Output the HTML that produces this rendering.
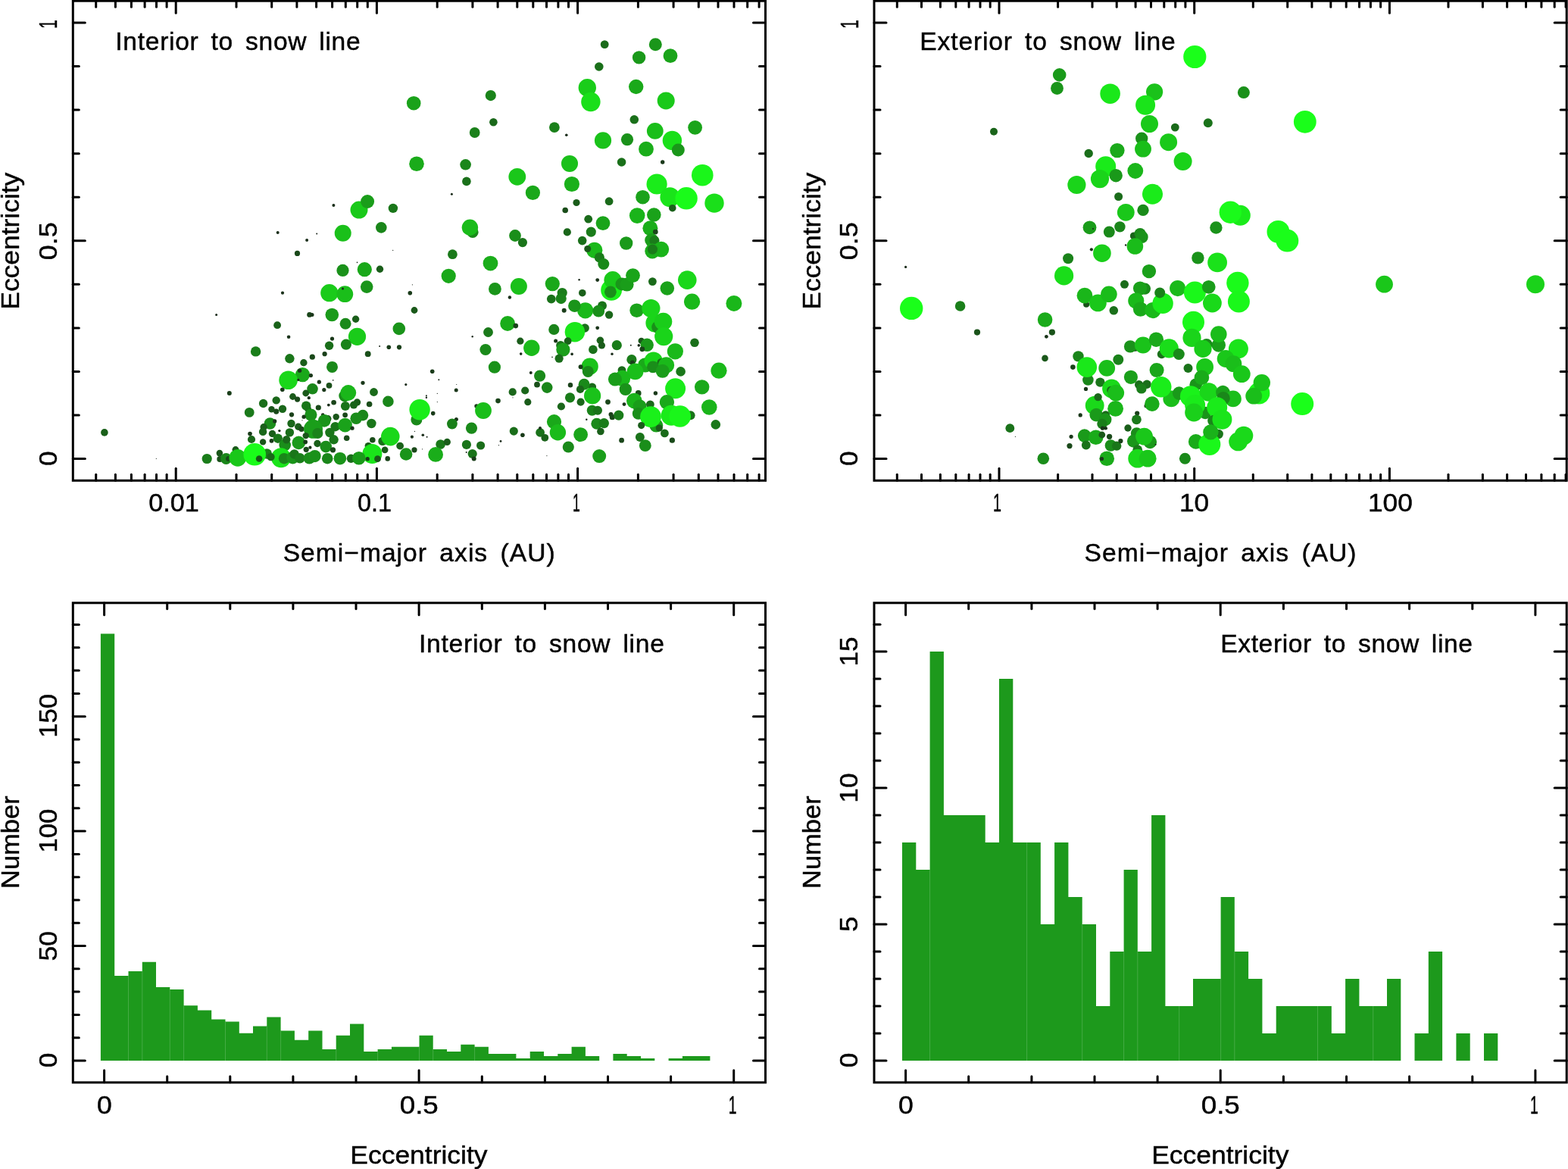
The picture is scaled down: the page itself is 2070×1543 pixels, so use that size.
<!DOCTYPE html>
<html><head><meta charset="utf-8"><title>Eccentricity vs semi-major axis</title>
<style>html,body{margin:0;padding:0;background:#fff;}svg{display:block;}</style>
</head><body>
<svg width="2070" height="1543" viewBox="0 0 2070 1543">
<defs>
<clipPath id="c1"><rect x="96.3" y="1.2" width="914.2" height="633.1"/></clipPath>
<clipPath id="c2"><rect x="1154" y="1.2" width="914.2" height="633.1"/></clipPath>
<clipPath id="c3"><rect x="96.3" y="795.8" width="914.2" height="633"/></clipPath>
<clipPath id="c4"><rect x="1154" y="795.8" width="914.2" height="633"/></clipPath>
</defs>
<rect width="2070" height="1543" fill="#fff"/>
<path fill="#1d991c" d="M132.9 1400L132.9 836.6L151.2 836.6L151.2 1287.9L169.5 1287.9L169.5 1281.9L187.8 1281.9L187.8 1269.8L206 1269.8L206 1303.1L224.3 1303.1L224.3 1306.1L242.6 1306.1L242.6 1327.3L260.9 1327.3L260.9 1333.4L279.2 1333.4L279.2 1345.5L297.5 1345.5L297.5 1348.5L315.8 1348.5L315.8 1363.7L334 1363.7L334 1354.6L352.3 1354.6L352.3 1342.4L370.6 1342.4L370.6 1360.6L388.9 1360.6L388.9 1372.7L407.2 1372.7L407.2 1360.6L425.5 1360.6L425.5 1384.9L443.7 1384.9L443.7 1366.7L462 1366.7L462 1351.5L480.3 1351.5L480.3 1387.9L498.6 1387.9L498.6 1384.9L516.9 1384.9L516.9 1381.8L535.2 1381.8L535.2 1381.8L553.5 1381.8L553.5 1366.7L571.7 1366.7L571.7 1384.9L590 1384.9L590 1387.9L608.3 1387.9L608.3 1378.8L626.6 1378.8L626.6 1381.8L644.9 1381.8L644.9 1390.9L663.2 1390.9L663.2 1390.9L681.4 1390.9L681.4 1397L699.7 1397L699.7 1387.9L718 1387.9L718 1393.9L736.3 1393.9L736.3 1390.9L754.6 1390.9L754.6 1381.8L772.9 1381.8L772.9 1393.9L791.2 1393.9L791.2 1400 Z M809.4 1400L809.4 1390.9L827.7 1390.9L827.7 1393.9L846 1393.9L846 1397L864.3 1397L864.3 1400 Z M882.6 1400L882.6 1397L900.9 1397L900.9 1393.9L919.2 1393.9L919.2 1393.9L937.4 1393.9L937.4 1400 Z"/>
<path fill="#1d991c" d="M1191 1400L1191 1112.1L1209.3 1112.1L1209.3 1148.1L1227.6 1148.1L1227.6 860.1L1245.9 860.1L1245.9 1076.1L1264.1 1076.1L1264.1 1076.1L1282.4 1076.1L1282.4 1076.1L1300.7 1076.1L1300.7 1112.1L1319 1112.1L1319 896.1L1337.3 896.1L1337.3 1112.1L1355.6 1112.1L1355.6 1112.1L1373.8 1112.1L1373.8 1220L1392.1 1220L1392.1 1112.1L1410.4 1112.1L1410.4 1184.1L1428.7 1184.1L1428.7 1220L1447 1220L1447 1328L1465.3 1328L1465.3 1256L1483.6 1256L1483.6 1148.1L1501.8 1148.1L1501.8 1256L1520.1 1256L1520.1 1076.1L1538.4 1076.1L1538.4 1328L1556.7 1328L1556.7 1328L1575 1328L1575 1292L1593.3 1292L1593.3 1292L1611.6 1292L1611.6 1184.1L1629.8 1184.1L1629.8 1256L1648.1 1256L1648.1 1292L1666.4 1292L1666.4 1364L1684.7 1364L1684.7 1328L1703 1328L1703 1328L1721.3 1328L1721.3 1328L1739.5 1328L1739.5 1328L1757.8 1328L1757.8 1364L1776.1 1364L1776.1 1292L1794.4 1292L1794.4 1328L1812.7 1328L1812.7 1328L1831 1328L1831 1292L1849.3 1292L1849.3 1400 Z M1867.5 1400L1867.5 1364L1885.8 1364L1885.8 1256L1904.1 1256L1904.1 1400 Z M1922.4 1400L1922.4 1364L1940.7 1364L1940.7 1400 Z M1959 1400L1959 1364L1977.3 1364L1977.3 1400 Z"/>
<g stroke="#4aae4a" stroke-width="0.9">
<line x1="169.5" y1="1287.9" x2="169.5" y2="1400"/>
<line x1="187.8" y1="1281.9" x2="187.8" y2="1400"/>
<line x1="224.3" y1="1306.1" x2="224.3" y2="1400"/>
<line x1="242.6" y1="1327.3" x2="242.6" y2="1400"/>
<line x1="297.5" y1="1348.5" x2="297.5" y2="1400"/>
<line x1="352.3" y1="1354.6" x2="352.3" y2="1400"/>
<line x1="370.6" y1="1360.6" x2="370.6" y2="1400"/>
<line x1="443.7" y1="1384.9" x2="443.7" y2="1400"/>
<line x1="498.6" y1="1387.9" x2="498.6" y2="1400"/>
<line x1="553.5" y1="1381.8" x2="553.5" y2="1400"/>
<line x1="571.7" y1="1384.9" x2="571.7" y2="1400"/>
<line x1="626.6" y1="1381.8" x2="626.6" y2="1400"/>
<line x1="1227.6" y1="1148.1" x2="1227.6" y2="1400"/>
<line x1="1355.6" y1="1112.1" x2="1355.6" y2="1400"/>
<line x1="1428.7" y1="1220" x2="1428.7" y2="1400"/>
<line x1="1483.6" y1="1256" x2="1483.6" y2="1400"/>
<line x1="1501.8" y1="1256" x2="1501.8" y2="1400"/>
<line x1="1556.7" y1="1328" x2="1556.7" y2="1400"/>
<line x1="1611.6" y1="1292" x2="1611.6" y2="1400"/>
<line x1="1629.8" y1="1256" x2="1629.8" y2="1400"/>
<line x1="1739.5" y1="1328" x2="1739.5" y2="1400"/>
<line x1="1812.7" y1="1328" x2="1812.7" y2="1400"/>
</g>
<g clip-path="url(#c1)">
<circle cx="546.2" cy="136.2" r="9.3" fill="#1aa21a"/>
<circle cx="550" cy="216.2" r="9.8" fill="#1aab1a"/>
<circle cx="440.4" cy="271.1" r="2" fill="#1a2e1a"/>
<circle cx="474" cy="277.1" r="11.5" fill="#1ac91a"/>
<circle cx="485.1" cy="266" r="9" fill="#1a9d1a"/>
<circle cx="518.9" cy="274.9" r="6.2" fill="#1a761a"/>
<circle cx="452.7" cy="307.8" r="11" fill="#1ac01a"/>
<circle cx="503.3" cy="300.4" r="7.3" fill="#1a861a"/>
<circle cx="366.7" cy="306.9" r="2" fill="#1a2e1a"/>
<circle cx="418.2" cy="308.4" r="1" fill="#1a261a"/>
<circle cx="405.1" cy="317.1" r="2" fill="#1a2e1a"/>
<circle cx="647.8" cy="126.1" r="7.1" fill="#1a831a"/>
<circle cx="651.4" cy="161.3" r="5.3" fill="#1a681a"/>
<circle cx="626.7" cy="175" r="6.9" fill="#1a801a"/>
<circle cx="731.9" cy="168.1" r="6.9" fill="#1a801a"/>
<circle cx="747.8" cy="178.3" r="1.8" fill="#1a2c1a"/>
<circle cx="798.2" cy="58.6" r="5.4" fill="#1a6a1a"/>
<circle cx="865.3" cy="58.7" r="8.5" fill="#1a961a"/>
<circle cx="843.6" cy="75.9" r="8.7" fill="#1a991a"/>
<circle cx="885" cy="73.7" r="9.4" fill="#1aa41a"/>
<circle cx="790.8" cy="88" r="5.8" fill="#1a701a"/>
<circle cx="775.3" cy="115.7" r="11.7" fill="#1acd1a"/>
<circle cx="779.9" cy="134.5" r="12.7" fill="#1adf1a"/>
<circle cx="839.7" cy="114.5" r="9.7" fill="#1aa91a"/>
<circle cx="879.2" cy="132.9" r="11.5" fill="#1ac91a"/>
<circle cx="837.3" cy="157.8" r="5.8" fill="#1a701a"/>
<circle cx="864.8" cy="172.9" r="10.9" fill="#1abe1a"/>
<circle cx="917.6" cy="168.3" r="9.4" fill="#1aa41a"/>
<circle cx="796" cy="185.4" r="11.1" fill="#1ac21a"/>
<circle cx="828" cy="184.2" r="8.1" fill="#1a911a"/>
<circle cx="887.4" cy="185.4" r="12.7" fill="#1adf1a"/>
<circle cx="853" cy="196.7" r="9.9" fill="#1aad1a"/>
<circle cx="895.3" cy="197.9" r="8.5" fill="#1a961a"/>
<circle cx="614.6" cy="217.3" r="7.3" fill="#1a861a"/>
<circle cx="615.9" cy="239.4" r="5.8" fill="#1a701a"/>
<circle cx="596.4" cy="256.2" r="1.5" fill="#1a2a1a"/>
<circle cx="682.8" cy="233.3" r="11.4" fill="#1ac71a"/>
<circle cx="703.4" cy="254.4" r="9.6" fill="#1aa81a"/>
<circle cx="752" cy="215.9" r="11" fill="#1ac01a"/>
<circle cx="754.9" cy="243" r="10.1" fill="#1ab01a"/>
<circle cx="761" cy="267.5" r="4.6" fill="#1a5c1a"/>
<circle cx="746.2" cy="277.5" r="3.8" fill="#1a4d1a"/>
<circle cx="624" cy="306.4" r="7.6" fill="#1a8a1a"/>
<circle cx="620.4" cy="300.3" r="10.7" fill="#1abb1a"/>
<circle cx="680" cy="311" r="7.9" fill="#1a8e1a"/>
<circle cx="689.9" cy="320.1" r="6.1" fill="#1a741a"/>
<circle cx="748.8" cy="306.4" r="5.1" fill="#1a661a"/>
<circle cx="820.6" cy="214" r="5.8" fill="#1a701a"/>
<circle cx="874.7" cy="214" r="2.7" fill="#1a391a"/>
<circle cx="927.3" cy="231.2" r="14.3" fill="#1af61a"/>
<circle cx="867.1" cy="243" r="13.6" fill="#1aec1a"/>
<circle cx="884.4" cy="260.2" r="13" fill="#1ae41a"/>
<circle cx="906.1" cy="261.8" r="14.7" fill="#1afb1a"/>
<circle cx="943" cy="268.1" r="12.7" fill="#1adf1a"/>
<circle cx="848.5" cy="260.2" r="9.3" fill="#1aa21a"/>
<circle cx="804.1" cy="265.7" r="5.4" fill="#1a6a1a"/>
<circle cx="887.8" cy="274.7" r="4.8" fill="#1a601a"/>
<circle cx="841.2" cy="284.6" r="10.3" fill="#1ab41a"/>
<circle cx="863.3" cy="283.5" r="9.3" fill="#1aa21a"/>
<circle cx="776.7" cy="289.2" r="5.4" fill="#1a6a1a"/>
<circle cx="796" cy="294.6" r="9.4" fill="#1aa41a"/>
<circle cx="858.4" cy="301.3" r="10" fill="#1aae1a"/>
<circle cx="865.3" cy="306.1" r="3.4" fill="#1a461a"/>
<circle cx="780.3" cy="306.1" r="6.6" fill="#1a7c1a"/>
<circle cx="768.7" cy="317.6" r="5.8" fill="#1a701a"/>
<circle cx="826.7" cy="321" r="8.7" fill="#1a991a"/>
<circle cx="860.2" cy="317" r="9" fill="#1a9d1a"/>
<circle cx="863.9" cy="317.6" r="6.6" fill="#1a7c1a"/>
<circle cx="872.9" cy="329.1" r="10.3" fill="#1ab41a"/>
<circle cx="861.2" cy="331.5" r="9.9" fill="#1aad1a"/>
<circle cx="861.4" cy="329.1" r="6.6" fill="#1a7c1a"/>
<circle cx="784.8" cy="330.3" r="10.6" fill="#1ab91a"/>
<circle cx="775.7" cy="328.5" r="4.5" fill="#1a5a1a"/>
<circle cx="791.4" cy="339.9" r="6.6" fill="#1a7c1a"/>
<circle cx="796.8" cy="348.5" r="7.5" fill="#1a891a"/>
<circle cx="764.6" cy="369.3" r="1.2" fill="#1a281a"/>
<circle cx="788.7" cy="369.6" r="2.4" fill="#1a341a"/>
<circle cx="807.1" cy="382.9" r="13.9" fill="#1af01a"/>
<circle cx="808.9" cy="369.6" r="11.5" fill="#1ac91a"/>
<circle cx="805.9" cy="385.3" r="7.9" fill="#1a8e1a"/>
<circle cx="821" cy="375" r="8.5" fill="#1a961a"/>
<circle cx="827.6" cy="375.6" r="9" fill="#1a9d1a"/>
<circle cx="835.5" cy="363.6" r="9.4" fill="#1aa41a"/>
<circle cx="861.4" cy="371.6" r="5.4" fill="#1a6a1a"/>
<circle cx="880.8" cy="380.5" r="9.3" fill="#1aa21a"/>
<circle cx="907.3" cy="369.6" r="12.3" fill="#1ad71a"/>
<circle cx="768.8" cy="386.7" r="4.8" fill="#1a601a"/>
<circle cx="913.6" cy="398.2" r="10.6" fill="#1ab91a"/>
<circle cx="968.9" cy="400.4" r="10.5" fill="#1ab71a"/>
<circle cx="772.7" cy="409.8" r="10.6" fill="#1ab91a"/>
<circle cx="795" cy="403.4" r="6" fill="#1a731a"/>
<circle cx="790.2" cy="410.7" r="7.9" fill="#1a8e1a"/>
<circle cx="804.1" cy="415.5" r="5.2" fill="#1a671a"/>
<circle cx="840.6" cy="409.7" r="9.3" fill="#1aa21a"/>
<circle cx="859.4" cy="407" r="12.1" fill="#1ad41a"/>
<circle cx="864.5" cy="426.4" r="12.1" fill="#1ad41a"/>
<circle cx="868.1" cy="431.8" r="7.9" fill="#1a8e1a"/>
<circle cx="875.6" cy="424.5" r="11.7" fill="#1acd1a"/>
<circle cx="876.2" cy="444.1" r="12.1" fill="#1ad41a"/>
<circle cx="772.1" cy="433" r="5.8" fill="#1a701a"/>
<circle cx="788.7" cy="432.8" r="2.4" fill="#1a341a"/>
<circle cx="792.4" cy="449.3" r="4.8" fill="#1a601a"/>
<circle cx="794.4" cy="455.9" r="4.6" fill="#1a5c1a"/>
<circle cx="782.9" cy="461.4" r="5.8" fill="#1a701a"/>
<circle cx="814.3" cy="455.7" r="6.6" fill="#1a7c1a"/>
<circle cx="808" cy="467.2" r="1.7" fill="#1a2c1a"/>
<circle cx="832.8" cy="455.7" r="1" fill="#1a261a"/>
<circle cx="843.3" cy="455.9" r="1.8" fill="#1a2c1a"/>
<circle cx="846.7" cy="449.9" r="4.2" fill="#1a551a"/>
<circle cx="854.2" cy="455.3" r="8.7" fill="#1a991a"/>
<circle cx="847.8" cy="460.8" r="3.4" fill="#1a461a"/>
<circle cx="917" cy="452.3" r="5.8" fill="#1a701a"/>
<circle cx="891.4" cy="463.8" r="10.6" fill="#1ab91a"/>
<circle cx="833.9" cy="474.7" r="6.6" fill="#1a7c1a"/>
<circle cx="834.9" cy="478.5" r="3" fill="#1a3e1a"/>
<circle cx="846.1" cy="478.9" r="3" fill="#1a3e1a"/>
<circle cx="851.8" cy="481.9" r="9.7" fill="#1aa91a"/>
<circle cx="862.7" cy="476.5" r="12.1" fill="#1ad41a"/>
<circle cx="872.9" cy="478.3" r="5.4" fill="#1a6a1a"/>
<circle cx="879.6" cy="481.9" r="10.6" fill="#1ab91a"/>
<circle cx="862" cy="484.3" r="7.9" fill="#1a8e1a"/>
<circle cx="874.7" cy="489.8" r="9" fill="#1a9d1a"/>
<circle cx="838.5" cy="490.4" r="10.9" fill="#1abe1a"/>
<circle cx="821" cy="488.6" r="5.4" fill="#1a6a1a"/>
<circle cx="821.6" cy="499.4" r="10.6" fill="#1ab91a"/>
<circle cx="811.9" cy="500.6" r="9" fill="#1a9d1a"/>
<circle cx="825.8" cy="513.9" r="8.2" fill="#1a921a"/>
<circle cx="778.7" cy="483.7" r="11.1" fill="#1ac21a"/>
<circle cx="766.6" cy="484.3" r="3" fill="#1a3e1a"/>
<circle cx="776.3" cy="490.4" r="7.5" fill="#1a891a"/>
<circle cx="898.6" cy="490.4" r="6.3" fill="#1a781a"/>
<circle cx="949" cy="489.2" r="10.6" fill="#1ab91a"/>
<circle cx="891.6" cy="512.7" r="13.5" fill="#1aeb1a"/>
<circle cx="926.7" cy="510.9" r="9.7" fill="#1aa91a"/>
<circle cx="781.7" cy="510.9" r="5.4" fill="#1a6a1a"/>
<circle cx="771.1" cy="507.3" r="7.5" fill="#1a891a"/>
<circle cx="766" cy="513.9" r="5.1" fill="#1a661a"/>
<circle cx="782.1" cy="522.4" r="11.1" fill="#1ac21a"/>
<circle cx="766.6" cy="530.6" r="5.1" fill="#1a661a"/>
<circle cx="802.5" cy="530.6" r="3.4" fill="#1a461a"/>
<circle cx="824" cy="533.6" r="2.4" fill="#1a341a"/>
<circle cx="842.7" cy="519" r="3.9" fill="#1a4f1a"/>
<circle cx="865.4" cy="519" r="2.7" fill="#1a391a"/>
<circle cx="837.3" cy="529" r="10.3" fill="#1ab41a"/>
<circle cx="844.5" cy="536.3" r="9" fill="#1a9d1a"/>
<circle cx="858.4" cy="533.8" r="5.4" fill="#1a6a1a"/>
<circle cx="880.4" cy="530.8" r="9.7" fill="#1aa91a"/>
<circle cx="842.7" cy="545.9" r="7.9" fill="#1a8e1a"/>
<circle cx="866.3" cy="561.6" r="9" fill="#1a9d1a"/>
<circle cx="859" cy="550.1" r="13.9" fill="#1af01a"/>
<circle cx="911.6" cy="548.3" r="6" fill="#1a731a"/>
<circle cx="886.2" cy="548.3" r="13.5" fill="#1aeb1a"/>
<circle cx="897.7" cy="549.5" r="14.3" fill="#1af61a"/>
<circle cx="936.3" cy="537.5" r="10.3" fill="#1ab41a"/>
<circle cx="944.8" cy="560.4" r="6.3" fill="#1a781a"/>
<circle cx="781.7" cy="541.7" r="7" fill="#1a821a"/>
<circle cx="789" cy="541.7" r="6" fill="#1a731a"/>
<circle cx="806.5" cy="546.9" r="3" fill="#1a3e1a"/>
<circle cx="808.3" cy="550.7" r="3.6" fill="#1a491a"/>
<circle cx="816.8" cy="548.1" r="6.6" fill="#1a7c1a"/>
<circle cx="774.3" cy="553.8" r="1.2" fill="#1a281a"/>
<circle cx="787.8" cy="559.2" r="7.5" fill="#1a891a"/>
<circle cx="797.4" cy="558.6" r="6.6" fill="#1a7c1a"/>
<circle cx="792.9" cy="569.5" r="4.8" fill="#1a601a"/>
<circle cx="766.6" cy="573.7" r="9.4" fill="#1aa41a"/>
<circle cx="846.7" cy="561.6" r="4.6" fill="#1a5c1a"/>
<circle cx="870.3" cy="565" r="4.6" fill="#1a5c1a"/>
<circle cx="877.4" cy="571.9" r="5.4" fill="#1a6a1a"/>
<circle cx="844.9" cy="577" r="6" fill="#1a731a"/>
<circle cx="851.8" cy="588.2" r="7.9" fill="#1a8e1a"/>
<circle cx="820.6" cy="581.2" r="3.4" fill="#1a461a"/>
<circle cx="887.4" cy="581.2" r="3.6" fill="#1a491a"/>
<circle cx="791.2" cy="602.1" r="9" fill="#1a9d1a"/>
<circle cx="597.4" cy="335.7" r="6.4" fill="#1a791a"/>
<circle cx="647.5" cy="347.6" r="9.9" fill="#1aad1a"/>
<circle cx="592.2" cy="364.3" r="9.6" fill="#1aa81a"/>
<circle cx="653.4" cy="381.4" r="8.4" fill="#1a951a"/>
<circle cx="684.9" cy="378" r="11" fill="#1ac01a"/>
<circle cx="672.9" cy="392.5" r="2.2" fill="#1a311a"/>
<circle cx="729.3" cy="374.6" r="9.6" fill="#1aa81a"/>
<circle cx="742.2" cy="386.5" r="6.6" fill="#1a7c1a"/>
<circle cx="727.8" cy="394.6" r="5.9" fill="#1a721a"/>
<circle cx="740.7" cy="394.1" r="7.1" fill="#1a831a"/>
<circle cx="758.4" cy="403.7" r="8.3" fill="#1a941a"/>
<circle cx="744.7" cy="409.8" r="3" fill="#1a3e1a"/>
<circle cx="670.1" cy="427" r="9.9" fill="#1aad1a"/>
<circle cx="680.8" cy="430.1" r="3.3" fill="#1a441a"/>
<circle cx="644.5" cy="438.5" r="6.4" fill="#1a791a"/>
<circle cx="623.7" cy="444.3" r="1.2" fill="#1a281a"/>
<circle cx="731.3" cy="434.9" r="7.1" fill="#1a831a"/>
<circle cx="758.9" cy="438.2" r="13.2" fill="#1ae71a"/>
<circle cx="686.9" cy="450.2" r="4.6" fill="#1a5c1a"/>
<circle cx="701.8" cy="459.2" r="10.7" fill="#1abb1a"/>
<circle cx="641" cy="461.5" r="7.6" fill="#1a8a1a"/>
<circle cx="687.7" cy="467.1" r="1.8" fill="#1a2c1a"/>
<circle cx="733.6" cy="449.9" r="2.5" fill="#1a361a"/>
<circle cx="749.6" cy="450.2" r="4.9" fill="#1a621a"/>
<circle cx="740.1" cy="456" r="6" fill="#1a731a"/>
<circle cx="743.4" cy="461.5" r="9.1" fill="#1a9f1a"/>
<circle cx="755.1" cy="467.4" r="1.8" fill="#1a2c1a"/>
<circle cx="729" cy="471.4" r="0.8" fill="#1a261a"/>
<circle cx="738.1" cy="473.2" r="5.6" fill="#1a6d1a"/>
<circle cx="570.7" cy="490.3" r="2.8" fill="#1a3b1a"/>
<circle cx="579.3" cy="501.2" r="1" fill="#1a261a"/>
<circle cx="602.7" cy="507.5" r="0.6" fill="#1a251a"/>
<circle cx="602.2" cy="515.1" r="2.5" fill="#1a361a"/>
<circle cx="577.3" cy="519.4" r="0.6" fill="#1a251a"/>
<circle cx="562.9" cy="522.2" r="1" fill="#1a261a"/>
<circle cx="562.9" cy="524.8" r="1.2" fill="#1a281a"/>
<circle cx="577.3" cy="530.6" r="0.6" fill="#1a251a"/>
<circle cx="652.9" cy="484.7" r="8.1" fill="#1a911a"/>
<circle cx="700.8" cy="492" r="2" fill="#1a2e1a"/>
<circle cx="712.6" cy="496.1" r="7.6" fill="#1a8a1a"/>
<circle cx="709" cy="507.7" r="3.9" fill="#1a4f1a"/>
<circle cx="722.2" cy="511.6" r="7.3" fill="#1a861a"/>
<circle cx="753" cy="508.2" r="3.2" fill="#1a421a"/>
<circle cx="676.7" cy="517.4" r="5.1" fill="#1a661a"/>
<circle cx="693.2" cy="515.5" r="5.1" fill="#1a661a"/>
<circle cx="677" cy="524.8" r="0.6" fill="#1a251a"/>
<circle cx="657.5" cy="529.1" r="3.3" fill="#1a441a"/>
<circle cx="696.8" cy="530.7" r="4.6" fill="#1a5c1a"/>
<circle cx="752.5" cy="524.8" r="6.6" fill="#1a7c1a"/>
<circle cx="740.9" cy="536.5" r="5.1" fill="#1a661a"/>
<circle cx="629.1" cy="536" r="2.8" fill="#1a3b1a"/>
<circle cx="638" cy="542" r="10.9" fill="#1abe1a"/>
<circle cx="571.7" cy="545.6" r="2.8" fill="#1a3b1a"/>
<circle cx="602.4" cy="553.4" r="2.5" fill="#1a361a"/>
<circle cx="596.9" cy="559.5" r="6.9" fill="#1a801a"/>
<circle cx="622.5" cy="565.1" r="7.6" fill="#1a8a1a"/>
<circle cx="678.3" cy="569.1" r="5.6" fill="#1a6d1a"/>
<circle cx="689.9" cy="574.3" r="2.8" fill="#1a3b1a"/>
<circle cx="713.1" cy="570.9" r="5.9" fill="#1a721a"/>
<circle cx="713" cy="565.1" r="2" fill="#1a2e1a"/>
<circle cx="719.3" cy="577.8" r="4.9" fill="#1a621a"/>
<circle cx="731.5" cy="556.7" r="9.6" fill="#1aa81a"/>
<circle cx="736.4" cy="570.7" r="10.7" fill="#1abb1a"/>
<circle cx="750.3" cy="590" r="7.6" fill="#1a8a1a"/>
<circle cx="558.3" cy="574.3" r="1.8" fill="#1a2c1a"/>
<circle cx="563.6" cy="576.7" r="1" fill="#1a261a"/>
<circle cx="581.6" cy="586.5" r="6.3" fill="#1a781a"/>
<circle cx="590.3" cy="583.4" r="4.6" fill="#1a5c1a"/>
<circle cx="575.1" cy="599.9" r="9.9" fill="#1aad1a"/>
<circle cx="557.5" cy="592.8" r="0.6" fill="#1a251a"/>
<circle cx="615.9" cy="586.9" r="6.1" fill="#1a741a"/>
<circle cx="634.6" cy="588" r="5.6" fill="#1a6d1a"/>
<circle cx="615.7" cy="597" r="1" fill="#1a261a"/>
<circle cx="623.7" cy="599" r="6.1" fill="#1a741a"/>
<circle cx="625.7" cy="605.4" r="3" fill="#1a3e1a"/>
<circle cx="661" cy="582.4" r="1.4" fill="#1a291a"/>
<circle cx="658.5" cy="587.7" r="0.6" fill="#1a251a"/>
<circle cx="721.9" cy="601.6" r="0.6" fill="#1a251a"/>
<circle cx="392.5" cy="334.4" r="3.6" fill="#1a491a"/>
<circle cx="471.5" cy="346.4" r="0.8" fill="#1a261a"/>
<circle cx="518.7" cy="330.4" r="0.6" fill="#1a251a"/>
<circle cx="452.5" cy="356.9" r="8.1" fill="#1a911a"/>
<circle cx="481.3" cy="355.7" r="9.6" fill="#1aa81a"/>
<circle cx="501.5" cy="355.2" r="4.7" fill="#1a5e1a"/>
<circle cx="544.4" cy="375.8" r="0.6" fill="#1a251a"/>
<circle cx="434.8" cy="386.7" r="11.6" fill="#1acb1a"/>
<circle cx="455.3" cy="388.2" r="10.9" fill="#1abe1a"/>
<circle cx="452.5" cy="381" r="1.5" fill="#1a2a1a"/>
<circle cx="484.2" cy="378.6" r="8.3" fill="#1a941a"/>
<circle cx="373" cy="386.7" r="2.1" fill="#1a301a"/>
<circle cx="541.3" cy="386.7" r="2.8" fill="#1a3b1a"/>
<circle cx="408.6" cy="415.4" r="3.4" fill="#1a461a"/>
<circle cx="412" cy="415.4" r="2.5" fill="#1a361a"/>
<circle cx="438.3" cy="415.5" r="8.8" fill="#1a9a1a"/>
<circle cx="456.1" cy="427.2" r="7.5" fill="#1a891a"/>
<circle cx="469.6" cy="421.3" r="4.7" fill="#1a5e1a"/>
<circle cx="547" cy="409.5" r="4.4" fill="#1a591a"/>
<circle cx="366.1" cy="429.2" r="4.9" fill="#1a621a"/>
<circle cx="526.8" cy="433.9" r="8.3" fill="#1a941a"/>
<circle cx="471.5" cy="444.3" r="11.6" fill="#1acb1a"/>
<circle cx="381.1" cy="444.8" r="2.3" fill="#1a331a"/>
<circle cx="438.5" cy="447.1" r="2.6" fill="#1a381a"/>
<circle cx="434.6" cy="456.3" r="5.7" fill="#1a6e1a"/>
<circle cx="456.9" cy="454.7" r="7.1" fill="#1a831a"/>
<circle cx="501.1" cy="457" r="1" fill="#1a261a"/>
<circle cx="513.3" cy="458.3" r="2.8" fill="#1a3b1a"/>
<circle cx="527" cy="458.3" r="3.1" fill="#1a401a"/>
<circle cx="428.6" cy="467.2" r="3.1" fill="#1a401a"/>
<circle cx="485.7" cy="467.2" r="3.9" fill="#1a4f1a"/>
<circle cx="382.4" cy="473.3" r="6.2" fill="#1a761a"/>
<circle cx="412.3" cy="471.2" r="3.6" fill="#1a491a"/>
<circle cx="400.9" cy="478.8" r="4.7" fill="#1a5e1a"/>
<circle cx="438.5" cy="484.4" r="7.5" fill="#1a891a"/>
<circle cx="399.5" cy="494.6" r="9.6" fill="#1aa81a"/>
<circle cx="395.6" cy="489.2" r="2.6" fill="#1a381a"/>
<circle cx="410.4" cy="495.6" r="2.6" fill="#1a381a"/>
<circle cx="380.6" cy="501.7" r="12.3" fill="#1ad71a"/>
<circle cx="393.8" cy="501.4" r="1.6" fill="#1a2b1a"/>
<circle cx="372.8" cy="514.3" r="2.8" fill="#1a3b1a"/>
<circle cx="421.3" cy="504.2" r="2.6" fill="#1a381a"/>
<circle cx="439.7" cy="501.9" r="0.8" fill="#1a261a"/>
<circle cx="412.5" cy="513.3" r="7.3" fill="#1a861a"/>
<circle cx="434.5" cy="508.8" r="3.9" fill="#1a4f1a"/>
<circle cx="427.8" cy="514.6" r="2.6" fill="#1a381a"/>
<circle cx="403.7" cy="519" r="4.4" fill="#1a591a"/>
<circle cx="479" cy="505.3" r="2.6" fill="#1a381a"/>
<circle cx="535.8" cy="507.6" r="1.6" fill="#1a2b1a"/>
<circle cx="455.1" cy="522.6" r="7.8" fill="#1a8d1a"/>
<circle cx="459.8" cy="518.5" r="10.4" fill="#1ab61a"/>
<circle cx="493.5" cy="517.5" r="5.4" fill="#1a6a1a"/>
<circle cx="512.4" cy="529.9" r="7.3" fill="#1a861a"/>
<circle cx="549.9" cy="553.9" r="7.5" fill="#1a891a"/>
<circle cx="554.1" cy="540.7" r="13.7" fill="#1aed1a"/>
<circle cx="407.8" cy="525.2" r="2.1" fill="#1a301a"/>
<circle cx="386.5" cy="523.5" r="4.4" fill="#1a591a"/>
<circle cx="392.6" cy="527.1" r="3.6" fill="#1a491a"/>
<circle cx="364.7" cy="528.4" r="5.2" fill="#1a671a"/>
<circle cx="347.6" cy="532.5" r="5.7" fill="#1a6e1a"/>
<circle cx="440.6" cy="531.2" r="3.3" fill="#1a441a"/>
<circle cx="433.8" cy="534.6" r="1.9" fill="#1a2d1a"/>
<circle cx="406.3" cy="539.3" r="4.5" fill="#1a5a1a"/>
<circle cx="404.2" cy="535.6" r="6.2" fill="#1a761a"/>
<circle cx="420.3" cy="538" r="3.6" fill="#1a491a"/>
<circle cx="455.9" cy="536.1" r="6" fill="#1a731a"/>
<circle cx="471.5" cy="531" r="4.7" fill="#1a5e1a"/>
<circle cx="467" cy="534.6" r="5" fill="#1a641a"/>
<circle cx="487.6" cy="533.5" r="3.8" fill="#1a4d1a"/>
<circle cx="358.5" cy="540.3" r="4.2" fill="#1a551a"/>
<circle cx="364.7" cy="543.1" r="3.6" fill="#1a491a"/>
<circle cx="373" cy="539.8" r="5.2" fill="#1a671a"/>
<circle cx="385" cy="547.3" r="3.1" fill="#1a401a"/>
<circle cx="410.4" cy="547.6" r="8.1" fill="#1a911a"/>
<circle cx="401.1" cy="550.2" r="2.6" fill="#1a381a"/>
<circle cx="426.2" cy="547.6" r="2.3" fill="#1a331a"/>
<circle cx="455.6" cy="547.8" r="3.4" fill="#1a461a"/>
<circle cx="432.8" cy="552.8" r="4.7" fill="#1a5e1a"/>
<circle cx="443.7" cy="550.2" r="4.2" fill="#1a551a"/>
<circle cx="479" cy="548.1" r="7.3" fill="#1a861a"/>
<circle cx="470.2" cy="552.2" r="7.8" fill="#1a8d1a"/>
<circle cx="490.4" cy="559" r="6.2" fill="#1a761a"/>
<circle cx="356.4" cy="559" r="7.8" fill="#1a8d1a"/>
<circle cx="362.7" cy="555.9" r="2.6" fill="#1a381a"/>
<circle cx="348.1" cy="563.7" r="4.7" fill="#1a5e1a"/>
<circle cx="384.5" cy="559" r="5.2" fill="#1a671a"/>
<circle cx="399" cy="554.8" r="0.6" fill="#1a251a"/>
<circle cx="393.8" cy="563.2" r="4.7" fill="#1a5e1a"/>
<circle cx="398" cy="566.3" r="3.6" fill="#1a491a"/>
<circle cx="428.1" cy="555.4" r="8.3" fill="#1a941a"/>
<circle cx="442.6" cy="563.2" r="6.2" fill="#1a761a"/>
<circle cx="455.6" cy="561.1" r="9.3" fill="#1aa21a"/>
<circle cx="465" cy="565.2" r="2.6" fill="#1a381a"/>
<circle cx="413.5" cy="566.3" r="12.5" fill="#1a9e1a"/>
<circle cx="419.3" cy="572" r="7.1" fill="#1a831a"/>
<circle cx="435.4" cy="571" r="6.2" fill="#1a761a"/>
<circle cx="368.9" cy="568.6" r="1.7" fill="#1a2c1a"/>
<circle cx="347.1" cy="569.9" r="5.2" fill="#1a671a"/>
<circle cx="359.5" cy="572.5" r="4.7" fill="#1a5e1a"/>
<circle cx="382.4" cy="570.9" r="5.7" fill="#1a6e1a"/>
<circle cx="403.7" cy="575.1" r="4.2" fill="#1a551a"/>
<circle cx="440.6" cy="580.3" r="6.2" fill="#1a761a"/>
<circle cx="457.7" cy="578.2" r="3.8" fill="#1a4d1a"/>
<circle cx="491.8" cy="580.8" r="3.8" fill="#1a4d1a"/>
<circle cx="505" cy="582.4" r="5.7" fill="#1a6e1a"/>
<circle cx="515.3" cy="576.1" r="12.3" fill="#1ad71a"/>
<circle cx="543.9" cy="576.7" r="2.1" fill="#1a301a"/>
<circle cx="547.5" cy="569.4" r="0.6" fill="#1a251a"/>
<circle cx="358.5" cy="581.8" r="2.9" fill="#1a3c1a"/>
<circle cx="366.8" cy="578.7" r="6.2" fill="#1a761a"/>
<circle cx="376.2" cy="587.6" r="7.8" fill="#1a8d1a"/>
<circle cx="378.2" cy="580.3" r="5.2" fill="#1a671a"/>
<circle cx="394.3" cy="584.4" r="8.8" fill="#1a9a1a"/>
<circle cx="347.1" cy="583.4" r="4.2" fill="#1a551a"/>
<circle cx="403.2" cy="583.4" r="2.8" fill="#1a3b1a"/>
<circle cx="419" cy="585.5" r="4.7" fill="#1a5e1a"/>
<circle cx="430.2" cy="589.6" r="7.8" fill="#1a8d1a"/>
<circle cx="528.1" cy="588.6" r="4.9" fill="#1a621a"/>
<circle cx="486.3" cy="588.6" r="4.7" fill="#1a5e1a"/>
<circle cx="508.1" cy="593.8" r="4.4" fill="#1a591a"/>
<circle cx="547" cy="593.8" r="3.6" fill="#1a491a"/>
<circle cx="491.4" cy="599" r="13" fill="#1ae41a"/>
<circle cx="536.1" cy="599.5" r="8.3" fill="#1a941a"/>
<circle cx="404.2" cy="593.3" r="3.6" fill="#1a491a"/>
<circle cx="409.4" cy="590.7" r="2.1" fill="#1a301a"/>
<circle cx="439.5" cy="593.8" r="3.6" fill="#1a491a"/>
<circle cx="352.3" cy="599" r="6.8" fill="#1a7f1a"/>
<circle cx="371" cy="604.2" r="13" fill="#1ae41a"/>
<circle cx="375.1" cy="605.2" r="7.3" fill="#1a861a"/>
<circle cx="386.5" cy="604.2" r="8.3" fill="#1a941a"/>
<circle cx="388.6" cy="599.5" r="6.2" fill="#1a761a"/>
<circle cx="395.9" cy="604.7" r="6.8" fill="#1a7f1a"/>
<circle cx="408.4" cy="604.7" r="7.8" fill="#1a8d1a"/>
<circle cx="415.6" cy="602.1" r="8.1" fill="#1a911a"/>
<circle cx="432.2" cy="605.2" r="7.3" fill="#1a861a"/>
<circle cx="448.9" cy="605.2" r="8.3" fill="#1a941a"/>
<circle cx="463.4" cy="605.2" r="5.7" fill="#1a6e1a"/>
<circle cx="473.8" cy="604.7" r="8.8" fill="#1a9a1a"/>
<circle cx="485.2" cy="605.7" r="2.6" fill="#1a381a"/>
<circle cx="498.5" cy="605.7" r="4.4" fill="#1a591a"/>
<circle cx="511.7" cy="605.4" r="3.3" fill="#1a441a"/>
<circle cx="357.5" cy="603.1" r="5.2" fill="#1a671a"/>
<circle cx="285.6" cy="415.6" r="1.5" fill="#1a2a1a"/>
<circle cx="337.6" cy="463.9" r="6.7" fill="#1a7e1a"/>
<circle cx="302.8" cy="519.1" r="3" fill="#1a3e1a"/>
<circle cx="329.2" cy="544.4" r="6.4" fill="#1a791a"/>
<circle cx="137.9" cy="570.9" r="4.8" fill="#1a601a"/>
<circle cx="330" cy="572.6" r="2.8" fill="#1a3b1a"/>
<circle cx="332" cy="580" r="5.1" fill="#1a661a"/>
<circle cx="273.2" cy="605.5" r="6.6" fill="#1a7c1a"/>
<circle cx="289.9" cy="598.1" r="4.3" fill="#1a571a"/>
<circle cx="290.3" cy="606" r="4" fill="#1a511a"/>
<circle cx="298.5" cy="605.5" r="7.4" fill="#1a871a"/>
<circle cx="311" cy="593.6" r="4.5" fill="#1a5a1a"/>
<circle cx="301.6" cy="605.5" r="3.5" fill="#1a481a"/>
<circle cx="313.8" cy="604.3" r="11.4" fill="#1ac71a"/>
<circle cx="336.2" cy="599.8" r="14.8" fill="#1afc1a"/>
<circle cx="342.1" cy="605.5" r="4.3" fill="#1a571a"/>
<circle cx="206.3" cy="605.3" r="0.6" fill="#1a251a"/>
</g>
<g clip-path="url(#c2)">
<circle cx="1398.7" cy="98.9" r="8.8" fill="#1a9a1a"/>
<circle cx="1395.5" cy="116.5" r="8.4" fill="#1a951a"/>
<circle cx="1312" cy="173.7" r="5" fill="#1a641a"/>
<circle cx="1577.3" cy="75" r="15.1" fill="#1aff1a"/>
<circle cx="1465.6" cy="123.7" r="13.3" fill="#1ae81a"/>
<circle cx="1524.1" cy="121.3" r="11.1" fill="#1ac21a"/>
<circle cx="1512.1" cy="138.8" r="13" fill="#1ae41a"/>
<circle cx="1641.9" cy="122.1" r="8" fill="#1a901a"/>
<circle cx="1517.5" cy="163.5" r="11.5" fill="#1ac91a"/>
<circle cx="1551.3" cy="168.1" r="5.4" fill="#1a6a1a"/>
<circle cx="1594.8" cy="162.3" r="6" fill="#1a731a"/>
<circle cx="1507.2" cy="182.8" r="8.2" fill="#1a921a"/>
<circle cx="1542.6" cy="187.7" r="11.5" fill="#1ac91a"/>
<circle cx="1509" cy="196.7" r="10.9" fill="#1abe1a"/>
<circle cx="1474.9" cy="198.6" r="9.7" fill="#1aa91a"/>
<circle cx="1437.2" cy="202.5" r="5.7" fill="#1a6e1a"/>
<circle cx="1561.6" cy="213" r="12" fill="#1ad21a"/>
<circle cx="1722.8" cy="160.8" r="14.9" fill="#1afe1a"/>
<circle cx="1687.4" cy="305.9" r="14.9" fill="#1afe1a"/>
<circle cx="1699.4" cy="317.7" r="14.9" fill="#1afe1a"/>
<circle cx="1827.5" cy="375.2" r="11.4" fill="#1ac71a"/>
<circle cx="2027" cy="375.2" r="12" fill="#1ad21a"/>
<circle cx="1459.7" cy="219.7" r="13.5" fill="#1aeb1a"/>
<circle cx="1473.2" cy="231.7" r="8.7" fill="#1a991a"/>
<circle cx="1452" cy="236.1" r="12.1" fill="#1ad41a"/>
<circle cx="1498.8" cy="225.5" r="10.4" fill="#1ab61a"/>
<circle cx="1421.4" cy="244" r="12.1" fill="#1ad41a"/>
<circle cx="1476.6" cy="259.5" r="5.5" fill="#1a6c1a"/>
<circle cx="1521.5" cy="256.2" r="13.5" fill="#1aeb1a"/>
<circle cx="1486.3" cy="280.3" r="11.4" fill="#1ac71a"/>
<circle cx="1509" cy="277.4" r="7.7" fill="#1a8b1a"/>
<circle cx="1438.5" cy="300.3" r="8.9" fill="#1a9c1a"/>
<circle cx="1443" cy="302.1" r="1" fill="#1a261a"/>
<circle cx="1464.3" cy="306.1" r="7.5" fill="#1a891a"/>
<circle cx="1478.4" cy="299.4" r="7.2" fill="#1a851a"/>
<circle cx="1496.9" cy="311.4" r="5" fill="#1a641a"/>
<circle cx="1505.1" cy="308.6" r="7.7" fill="#1a8b1a"/>
<circle cx="1507.5" cy="312.9" r="8.2" fill="#1a921a"/>
<circle cx="1498.4" cy="325" r="10.8" fill="#1abc1a"/>
<circle cx="1486.1" cy="323.5" r="1.2" fill="#1a281a"/>
<circle cx="1440.9" cy="329.3" r="2.1" fill="#1a301a"/>
<circle cx="1454.9" cy="334.2" r="11.8" fill="#1ace1a"/>
<circle cx="1410.1" cy="341.2" r="7" fill="#1a821a"/>
<circle cx="1195.6" cy="352.4" r="1.6" fill="#1a2b1a"/>
<circle cx="1203.2" cy="406.9" r="15.2" fill="#1aff1a"/>
<circle cx="1267.6" cy="404" r="6.8" fill="#1a7f1a"/>
<circle cx="1404.6" cy="363.9" r="12.6" fill="#1add1a"/>
<circle cx="1516.9" cy="358.1" r="9.2" fill="#1aa01a"/>
<circle cx="1484.5" cy="375.3" r="5.5" fill="#1a6c1a"/>
<circle cx="1434.1" cy="401.8" r="4" fill="#1a511a"/>
<circle cx="1432" cy="390.2" r="10.4" fill="#1ab61a"/>
<circle cx="1449.4" cy="399.9" r="11.4" fill="#1ac71a"/>
<circle cx="1463.9" cy="388.3" r="10.8" fill="#1abc1a"/>
<circle cx="1470.3" cy="409.8" r="5.8" fill="#1a701a"/>
<circle cx="1511.4" cy="381.1" r="7.7" fill="#1a8b1a"/>
<circle cx="1505.1" cy="380.6" r="9.2" fill="#1aa01a"/>
<circle cx="1499.8" cy="397" r="10.6" fill="#1ab91a"/>
<circle cx="1505.6" cy="408.1" r="9.7" fill="#1aa91a"/>
<circle cx="1522" cy="409.6" r="10.6" fill="#1ab91a"/>
<circle cx="1535.1" cy="400.4" r="13.7" fill="#1aed1a"/>
<circle cx="1531.2" cy="386.4" r="7" fill="#1a821a"/>
<circle cx="1554.7" cy="380.6" r="10.6" fill="#1ab91a"/>
<circle cx="1379.6" cy="422" r="9.8" fill="#1aab1a"/>
<circle cx="1388.9" cy="438.6" r="4.1" fill="#1a531a"/>
<circle cx="1381.4" cy="444.3" r="2.4" fill="#1a341a"/>
<circle cx="1379.5" cy="472.9" r="4.3" fill="#1a571a"/>
<circle cx="1498.8" cy="459.8" r="4" fill="#1a511a"/>
<circle cx="1492.1" cy="457.4" r="8.2" fill="#1a921a"/>
<circle cx="1509" cy="455.5" r="11.1" fill="#1ac21a"/>
<circle cx="1526.4" cy="448.2" r="9.7" fill="#1aa91a"/>
<circle cx="1533.6" cy="467.5" r="5.8" fill="#1a701a"/>
<circle cx="1543.3" cy="459.8" r="12.6" fill="#1add1a"/>
<circle cx="1556.3" cy="467.5" r="7.5" fill="#1a891a"/>
<circle cx="1423.5" cy="470.4" r="7.2" fill="#1a851a"/>
<circle cx="1637.3" cy="284.3" r="13.5" fill="#1aeb1a"/>
<circle cx="1624.3" cy="280.2" r="14.7" fill="#1afb1a"/>
<circle cx="1605.4" cy="300.5" r="8.2" fill="#1a921a"/>
<circle cx="1581.4" cy="340.4" r="8.2" fill="#1a921a"/>
<circle cx="1607.1" cy="346.4" r="12.9" fill="#1ae21a"/>
<circle cx="1577.4" cy="386" r="14.5" fill="#1af81a"/>
<circle cx="1595.7" cy="378.8" r="8.9" fill="#1a9c1a"/>
<circle cx="1633.9" cy="373.5" r="14.7" fill="#1afb1a"/>
<circle cx="1635.4" cy="398.1" r="14.5" fill="#1af81a"/>
<circle cx="1600.4" cy="400" r="12.4" fill="#1ad91a"/>
<circle cx="1575.5" cy="425.2" r="14.5" fill="#1af81a"/>
<circle cx="1573.5" cy="445.9" r="12.1" fill="#1ad41a"/>
<circle cx="1608.8" cy="455.6" r="9.2" fill="#1aa01a"/>
<circle cx="1608.8" cy="441.1" r="10.8" fill="#1abc1a"/>
<circle cx="1592.9" cy="454.6" r="7.7" fill="#1a8b1a"/>
<circle cx="1588" cy="460.4" r="11.6" fill="#1acb1a"/>
<circle cx="1634.9" cy="460.4" r="13" fill="#1ae41a"/>
<circle cx="1416.4" cy="484.6" r="3.3" fill="#1a441a"/>
<circle cx="1436.4" cy="501.5" r="7.3" fill="#1a861a"/>
<circle cx="1434.8" cy="484.6" r="13.3" fill="#1ae81a"/>
<circle cx="1461.2" cy="485.9" r="10.9" fill="#1abe1a"/>
<circle cx="1476.3" cy="474.7" r="7" fill="#1a821a"/>
<circle cx="1492.9" cy="497.8" r="9.1" fill="#1a9f1a"/>
<circle cx="1527.1" cy="488.5" r="9.5" fill="#1aa61a"/>
<circle cx="1568.5" cy="486" r="6" fill="#1a731a"/>
<circle cx="1433.5" cy="513.4" r="2.6" fill="#1a381a"/>
<circle cx="1452.4" cy="504.6" r="6.2" fill="#1a761a"/>
<circle cx="1467.5" cy="512.9" r="12.4" fill="#1ad91a"/>
<circle cx="1466.4" cy="515" r="5.2" fill="#1a671a"/>
<circle cx="1473.2" cy="518.6" r="10.9" fill="#1abe1a"/>
<circle cx="1503.7" cy="507.7" r="5.7" fill="#1a6e1a"/>
<circle cx="1514.1" cy="507.2" r="5.7" fill="#1a6e1a"/>
<circle cx="1506.9" cy="512.9" r="6.7" fill="#1a7e1a"/>
<circle cx="1546.3" cy="526.4" r="10.9" fill="#1abe1a"/>
<circle cx="1532.8" cy="510.8" r="13.7" fill="#1aed1a"/>
<circle cx="1556.6" cy="519.1" r="8.8" fill="#1a9a1a"/>
<circle cx="1513.1" cy="535.7" r="2.6" fill="#1a381a"/>
<circle cx="1520.9" cy="533.1" r="9.8" fill="#1aab1a"/>
<circle cx="1445.2" cy="535.2" r="12.4" fill="#1ad91a"/>
<circle cx="1449.6" cy="524.1" r="5.2" fill="#1a671a"/>
<circle cx="1472.6" cy="539.3" r="10.4" fill="#1ab61a"/>
<circle cx="1447.2" cy="547.6" r="8.8" fill="#1a9a1a"/>
<circle cx="1459.7" cy="547.6" r="5.4" fill="#1a6a1a"/>
<circle cx="1459.2" cy="553.8" r="8.3" fill="#1a941a"/>
<circle cx="1455" cy="559.5" r="6.7" fill="#1a7e1a"/>
<circle cx="1455.5" cy="565.2" r="2.6" fill="#1a381a"/>
<circle cx="1459.7" cy="565.2" r="2.3" fill="#1a331a"/>
<circle cx="1426.2" cy="547.9" r="2.6" fill="#1a381a"/>
<circle cx="1501.2" cy="545.5" r="3.1" fill="#1a401a"/>
<circle cx="1500.4" cy="553.8" r="6.4" fill="#1a791a"/>
<circle cx="1489" cy="565" r="4.7" fill="#1a5e1a"/>
<circle cx="1431.7" cy="575.1" r="8.8" fill="#1a9a1a"/>
<circle cx="1446.7" cy="577.2" r="9.8" fill="#1aab1a"/>
<circle cx="1454.8" cy="574" r="4.4" fill="#1a591a"/>
<circle cx="1464.6" cy="576.3" r="3.6" fill="#1a491a"/>
<circle cx="1433.8" cy="587.5" r="5.9" fill="#1a721a"/>
<circle cx="1414.1" cy="576.3" r="2.6" fill="#1a381a"/>
<circle cx="1412" cy="588.6" r="3.6" fill="#1a491a"/>
<circle cx="1466.4" cy="588" r="7.8" fill="#1a8d1a"/>
<circle cx="1474.2" cy="588.6" r="6.2" fill="#1a761a"/>
<circle cx="1479.4" cy="582.1" r="3.1" fill="#1a401a"/>
<circle cx="1500.6" cy="572" r="7.8" fill="#1a8d1a"/>
<circle cx="1496.5" cy="582.3" r="8.5" fill="#1a961a"/>
<circle cx="1518.3" cy="583.4" r="8.8" fill="#1a9a1a"/>
<circle cx="1510.5" cy="576.1" r="11.4" fill="#1ac71a"/>
<circle cx="1501.7" cy="593.7" r="6.4" fill="#1a791a"/>
<circle cx="1501.7" cy="605.2" r="12.4" fill="#1ad91a"/>
<circle cx="1515.2" cy="605.2" r="11.4" fill="#1ac71a"/>
<circle cx="1461.2" cy="605.2" r="9.8" fill="#1aab1a"/>
<circle cx="1454.5" cy="605.5" r="2.6" fill="#1a381a"/>
<circle cx="1377.3" cy="605.2" r="7.8" fill="#1a8d1a"/>
<circle cx="1564.4" cy="605.2" r="7.5" fill="#1a891a"/>
<circle cx="1525.5" cy="586.7" r="1" fill="#1a261a"/>
<circle cx="1618.1" cy="473.5" r="11.4" fill="#1ac71a"/>
<circle cx="1628.4" cy="480.2" r="10.9" fill="#1abe1a"/>
<circle cx="1639.3" cy="493.7" r="11.4" fill="#1ac71a"/>
<circle cx="1590.6" cy="484.4" r="11.4" fill="#1ac71a"/>
<circle cx="1578.7" cy="507.7" r="8.3" fill="#1a941a"/>
<circle cx="1586.4" cy="498.4" r="9.8" fill="#1aab1a"/>
<circle cx="1662.1" cy="519.1" r="14.3" fill="#1af61a"/>
<circle cx="1665.8" cy="505.1" r="11.2" fill="#1ac41a"/>
<circle cx="1655.2" cy="522.7" r="10.9" fill="#1abe1a"/>
<circle cx="1719.2" cy="533.1" r="15" fill="#1aff1a"/>
<circle cx="1571.9" cy="523.2" r="14" fill="#1af21a"/>
<circle cx="1595.8" cy="517.5" r="12.2" fill="#1ad61a"/>
<circle cx="1614.4" cy="518.1" r="9.3" fill="#1aa21a"/>
<circle cx="1627.9" cy="526.4" r="10.9" fill="#1abe1a"/>
<circle cx="1615" cy="525.8" r="8.8" fill="#1a871a"/>
<circle cx="1591.1" cy="545" r="8.3" fill="#1a941a"/>
<circle cx="1577.6" cy="534.6" r="13.5" fill="#1aeb1a"/>
<circle cx="1606.7" cy="537.8" r="13.5" fill="#1aeb1a"/>
<circle cx="1576.1" cy="544.5" r="11.9" fill="#1ad01a"/>
<circle cx="1601.5" cy="555.4" r="7.3" fill="#1a861a"/>
<circle cx="1613.4" cy="553.8" r="13" fill="#1ae41a"/>
<circle cx="1608.7" cy="573" r="6.2" fill="#1a761a"/>
<circle cx="1578.7" cy="582.9" r="9.8" fill="#1aab1a"/>
<circle cx="1596.8" cy="586.5" r="14.5" fill="#1af81a"/>
<circle cx="1598.4" cy="570.4" r="10.2" fill="#1ab21a"/>
<circle cx="1634.6" cy="582.9" r="12.4" fill="#1ad91a"/>
<circle cx="1641.9" cy="575.1" r="12.4" fill="#1ad91a"/>
<circle cx="1290" cy="438.6" r="4.1" fill="#1a531a"/>
<circle cx="1333.3" cy="565.2" r="5.9" fill="#1a721a"/>
<circle cx="1340.4" cy="576.3" r="0.6" fill="#1a251a"/>
</g>
<g stroke="#000" stroke-width="3" stroke-linecap="round">
<rect x="96.3" y="1.2" width="914.2" height="633.1" fill="none" stroke="#000" stroke-width="3"/>
<rect x="1154" y="1.2" width="914.2" height="633.1" fill="none" stroke="#000" stroke-width="3"/>
<rect x="96.3" y="795.8" width="914.2" height="633" fill="none" stroke="#000" stroke-width="3"/>
<rect x="1154" y="795.8" width="914.2" height="633" fill="none" stroke="#000" stroke-width="3"/>
<line x1="126.7" y1="634.3" x2="126.7" y2="626.3"/>
<line x1="126.7" y1="1.2" x2="126.7" y2="9.2"/>
<line x1="152.4" y1="634.3" x2="152.4" y2="626.3"/>
<line x1="152.4" y1="1.2" x2="152.4" y2="9.2"/>
<line x1="173.4" y1="634.3" x2="173.4" y2="626.3"/>
<line x1="173.4" y1="1.2" x2="173.4" y2="9.2"/>
<line x1="191.1" y1="634.3" x2="191.1" y2="626.3"/>
<line x1="191.1" y1="1.2" x2="191.1" y2="9.2"/>
<line x1="206.5" y1="634.3" x2="206.5" y2="626.3"/>
<line x1="206.5" y1="1.2" x2="206.5" y2="9.2"/>
<line x1="220.1" y1="634.3" x2="220.1" y2="626.3"/>
<line x1="220.1" y1="1.2" x2="220.1" y2="9.2"/>
<line x1="232.2" y1="634.3" x2="232.2" y2="618.3"/>
<line x1="232.2" y1="1.2" x2="232.2" y2="17.2"/>
<line x1="312" y1="634.3" x2="312" y2="626.3"/>
<line x1="312" y1="1.2" x2="312" y2="9.2"/>
<line x1="358.7" y1="634.3" x2="358.7" y2="626.3"/>
<line x1="358.7" y1="1.2" x2="358.7" y2="9.2"/>
<line x1="391.9" y1="634.3" x2="391.9" y2="626.3"/>
<line x1="391.9" y1="1.2" x2="391.9" y2="9.2"/>
<line x1="417.6" y1="634.3" x2="417.6" y2="626.3"/>
<line x1="417.6" y1="1.2" x2="417.6" y2="9.2"/>
<line x1="438.6" y1="634.3" x2="438.6" y2="626.3"/>
<line x1="438.6" y1="1.2" x2="438.6" y2="9.2"/>
<line x1="456.3" y1="634.3" x2="456.3" y2="626.3"/>
<line x1="456.3" y1="1.2" x2="456.3" y2="9.2"/>
<line x1="471.7" y1="634.3" x2="471.7" y2="626.3"/>
<line x1="471.7" y1="1.2" x2="471.7" y2="9.2"/>
<line x1="485.3" y1="634.3" x2="485.3" y2="626.3"/>
<line x1="485.3" y1="1.2" x2="485.3" y2="9.2"/>
<line x1="497.4" y1="634.3" x2="497.4" y2="618.3"/>
<line x1="497.4" y1="1.2" x2="497.4" y2="17.2"/>
<line x1="577.2" y1="634.3" x2="577.2" y2="626.3"/>
<line x1="577.2" y1="1.2" x2="577.2" y2="9.2"/>
<line x1="623.9" y1="634.3" x2="623.9" y2="626.3"/>
<line x1="623.9" y1="1.2" x2="623.9" y2="9.2"/>
<line x1="657.1" y1="634.3" x2="657.1" y2="626.3"/>
<line x1="657.1" y1="1.2" x2="657.1" y2="9.2"/>
<line x1="682.8" y1="634.3" x2="682.8" y2="626.3"/>
<line x1="682.8" y1="1.2" x2="682.8" y2="9.2"/>
<line x1="703.8" y1="634.3" x2="703.8" y2="626.3"/>
<line x1="703.8" y1="1.2" x2="703.8" y2="9.2"/>
<line x1="721.5" y1="634.3" x2="721.5" y2="626.3"/>
<line x1="721.5" y1="1.2" x2="721.5" y2="9.2"/>
<line x1="736.9" y1="634.3" x2="736.9" y2="626.3"/>
<line x1="736.9" y1="1.2" x2="736.9" y2="9.2"/>
<line x1="750.5" y1="634.3" x2="750.5" y2="626.3"/>
<line x1="750.5" y1="1.2" x2="750.5" y2="9.2"/>
<line x1="762.6" y1="634.3" x2="762.6" y2="618.3"/>
<line x1="762.6" y1="1.2" x2="762.6" y2="17.2"/>
<line x1="842.4" y1="634.3" x2="842.4" y2="626.3"/>
<line x1="842.4" y1="1.2" x2="842.4" y2="9.2"/>
<line x1="889.1" y1="634.3" x2="889.1" y2="626.3"/>
<line x1="889.1" y1="1.2" x2="889.1" y2="9.2"/>
<line x1="922.3" y1="634.3" x2="922.3" y2="626.3"/>
<line x1="922.3" y1="1.2" x2="922.3" y2="9.2"/>
<line x1="948" y1="634.3" x2="948" y2="626.3"/>
<line x1="948" y1="1.2" x2="948" y2="9.2"/>
<line x1="969" y1="634.3" x2="969" y2="626.3"/>
<line x1="969" y1="1.2" x2="969" y2="9.2"/>
<line x1="986.7" y1="634.3" x2="986.7" y2="626.3"/>
<line x1="986.7" y1="1.2" x2="986.7" y2="9.2"/>
<line x1="1002.1" y1="634.3" x2="1002.1" y2="626.3"/>
<line x1="1002.1" y1="1.2" x2="1002.1" y2="9.2"/>
<line x1="96.3" y1="605.5" x2="112.3" y2="605.5"/>
<line x1="1010.5" y1="605.5" x2="994.5" y2="605.5"/>
<line x1="96.3" y1="548" x2="104.3" y2="548"/>
<line x1="1010.5" y1="548" x2="1002.5" y2="548"/>
<line x1="96.3" y1="490.4" x2="104.3" y2="490.4"/>
<line x1="1010.5" y1="490.4" x2="1002.5" y2="490.4"/>
<line x1="96.3" y1="432.9" x2="104.3" y2="432.9"/>
<line x1="1010.5" y1="432.9" x2="1002.5" y2="432.9"/>
<line x1="96.3" y1="375.3" x2="104.3" y2="375.3"/>
<line x1="1010.5" y1="375.3" x2="1002.5" y2="375.3"/>
<line x1="96.3" y1="317.8" x2="112.3" y2="317.8"/>
<line x1="1010.5" y1="317.8" x2="994.5" y2="317.8"/>
<line x1="96.3" y1="260.2" x2="104.3" y2="260.2"/>
<line x1="1010.5" y1="260.2" x2="1002.5" y2="260.2"/>
<line x1="96.3" y1="202.7" x2="104.3" y2="202.7"/>
<line x1="1010.5" y1="202.7" x2="1002.5" y2="202.7"/>
<line x1="96.3" y1="145.1" x2="104.3" y2="145.1"/>
<line x1="1010.5" y1="145.1" x2="1002.5" y2="145.1"/>
<line x1="96.3" y1="87.5" x2="104.3" y2="87.5"/>
<line x1="1010.5" y1="87.5" x2="1002.5" y2="87.5"/>
<line x1="96.3" y1="30" x2="112.3" y2="30"/>
<line x1="1010.5" y1="30" x2="994.5" y2="30"/>
<line x1="1184.3" y1="634.3" x2="1184.3" y2="626.3"/>
<line x1="1184.3" y1="1.2" x2="1184.3" y2="9.2"/>
<line x1="1216.5" y1="634.3" x2="1216.5" y2="626.3"/>
<line x1="1216.5" y1="1.2" x2="1216.5" y2="9.2"/>
<line x1="1241.4" y1="634.3" x2="1241.4" y2="626.3"/>
<line x1="1241.4" y1="1.2" x2="1241.4" y2="9.2"/>
<line x1="1261.8" y1="634.3" x2="1261.8" y2="626.3"/>
<line x1="1261.8" y1="1.2" x2="1261.8" y2="9.2"/>
<line x1="1279.1" y1="634.3" x2="1279.1" y2="626.3"/>
<line x1="1279.1" y1="1.2" x2="1279.1" y2="9.2"/>
<line x1="1294" y1="634.3" x2="1294" y2="626.3"/>
<line x1="1294" y1="1.2" x2="1294" y2="9.2"/>
<line x1="1307.2" y1="634.3" x2="1307.2" y2="626.3"/>
<line x1="1307.2" y1="1.2" x2="1307.2" y2="9.2"/>
<line x1="1319" y1="634.3" x2="1319" y2="618.3"/>
<line x1="1319" y1="1.2" x2="1319" y2="17.2"/>
<line x1="1396.6" y1="634.3" x2="1396.6" y2="626.3"/>
<line x1="1396.6" y1="1.2" x2="1396.6" y2="9.2"/>
<line x1="1442" y1="634.3" x2="1442" y2="626.3"/>
<line x1="1442" y1="1.2" x2="1442" y2="9.2"/>
<line x1="1474.2" y1="634.3" x2="1474.2" y2="626.3"/>
<line x1="1474.2" y1="1.2" x2="1474.2" y2="9.2"/>
<line x1="1499.1" y1="634.3" x2="1499.1" y2="626.3"/>
<line x1="1499.1" y1="1.2" x2="1499.1" y2="9.2"/>
<line x1="1519.5" y1="634.3" x2="1519.5" y2="626.3"/>
<line x1="1519.5" y1="1.2" x2="1519.5" y2="9.2"/>
<line x1="1536.8" y1="634.3" x2="1536.8" y2="626.3"/>
<line x1="1536.8" y1="1.2" x2="1536.8" y2="9.2"/>
<line x1="1551.7" y1="634.3" x2="1551.7" y2="626.3"/>
<line x1="1551.7" y1="1.2" x2="1551.7" y2="9.2"/>
<line x1="1564.9" y1="634.3" x2="1564.9" y2="626.3"/>
<line x1="1564.9" y1="1.2" x2="1564.9" y2="9.2"/>
<line x1="1576.7" y1="634.3" x2="1576.7" y2="618.3"/>
<line x1="1576.7" y1="1.2" x2="1576.7" y2="17.2"/>
<line x1="1654.3" y1="634.3" x2="1654.3" y2="626.3"/>
<line x1="1654.3" y1="1.2" x2="1654.3" y2="9.2"/>
<line x1="1699.7" y1="634.3" x2="1699.7" y2="626.3"/>
<line x1="1699.7" y1="1.2" x2="1699.7" y2="9.2"/>
<line x1="1731.9" y1="634.3" x2="1731.9" y2="626.3"/>
<line x1="1731.9" y1="1.2" x2="1731.9" y2="9.2"/>
<line x1="1756.8" y1="634.3" x2="1756.8" y2="626.3"/>
<line x1="1756.8" y1="1.2" x2="1756.8" y2="9.2"/>
<line x1="1777.2" y1="634.3" x2="1777.2" y2="626.3"/>
<line x1="1777.2" y1="1.2" x2="1777.2" y2="9.2"/>
<line x1="1794.5" y1="634.3" x2="1794.5" y2="626.3"/>
<line x1="1794.5" y1="1.2" x2="1794.5" y2="9.2"/>
<line x1="1809.4" y1="634.3" x2="1809.4" y2="626.3"/>
<line x1="1809.4" y1="1.2" x2="1809.4" y2="9.2"/>
<line x1="1822.6" y1="634.3" x2="1822.6" y2="626.3"/>
<line x1="1822.6" y1="1.2" x2="1822.6" y2="9.2"/>
<line x1="1834.4" y1="634.3" x2="1834.4" y2="618.3"/>
<line x1="1834.4" y1="1.2" x2="1834.4" y2="17.2"/>
<line x1="1912" y1="634.3" x2="1912" y2="626.3"/>
<line x1="1912" y1="1.2" x2="1912" y2="9.2"/>
<line x1="1957.4" y1="634.3" x2="1957.4" y2="626.3"/>
<line x1="1957.4" y1="1.2" x2="1957.4" y2="9.2"/>
<line x1="1989.6" y1="634.3" x2="1989.6" y2="626.3"/>
<line x1="1989.6" y1="1.2" x2="1989.6" y2="9.2"/>
<line x1="2014.5" y1="634.3" x2="2014.5" y2="626.3"/>
<line x1="2014.5" y1="1.2" x2="2014.5" y2="9.2"/>
<line x1="2034.9" y1="634.3" x2="2034.9" y2="626.3"/>
<line x1="2034.9" y1="1.2" x2="2034.9" y2="9.2"/>
<line x1="2052.2" y1="634.3" x2="2052.2" y2="626.3"/>
<line x1="2052.2" y1="1.2" x2="2052.2" y2="9.2"/>
<line x1="2067.1" y1="634.3" x2="2067.1" y2="626.3"/>
<line x1="2067.1" y1="1.2" x2="2067.1" y2="9.2"/>
<line x1="1154" y1="605.5" x2="1170" y2="605.5"/>
<line x1="2068.2" y1="605.5" x2="2052.2" y2="605.5"/>
<line x1="1154" y1="548" x2="1162" y2="548"/>
<line x1="2068.2" y1="548" x2="2060.2" y2="548"/>
<line x1="1154" y1="490.4" x2="1162" y2="490.4"/>
<line x1="2068.2" y1="490.4" x2="2060.2" y2="490.4"/>
<line x1="1154" y1="432.9" x2="1162" y2="432.9"/>
<line x1="2068.2" y1="432.9" x2="2060.2" y2="432.9"/>
<line x1="1154" y1="375.3" x2="1162" y2="375.3"/>
<line x1="2068.2" y1="375.3" x2="2060.2" y2="375.3"/>
<line x1="1154" y1="317.8" x2="1170" y2="317.8"/>
<line x1="2068.2" y1="317.8" x2="2052.2" y2="317.8"/>
<line x1="1154" y1="260.2" x2="1162" y2="260.2"/>
<line x1="2068.2" y1="260.2" x2="2060.2" y2="260.2"/>
<line x1="1154" y1="202.7" x2="1162" y2="202.7"/>
<line x1="2068.2" y1="202.7" x2="2060.2" y2="202.7"/>
<line x1="1154" y1="145.1" x2="1162" y2="145.1"/>
<line x1="2068.2" y1="145.1" x2="2060.2" y2="145.1"/>
<line x1="1154" y1="87.5" x2="1162" y2="87.5"/>
<line x1="2068.2" y1="87.5" x2="2060.2" y2="87.5"/>
<line x1="1154" y1="30" x2="1170" y2="30"/>
<line x1="2068.2" y1="30" x2="2052.2" y2="30"/>
<line x1="137.6" y1="1428.8" x2="137.6" y2="1412.8"/>
<line x1="137.6" y1="795.8" x2="137.6" y2="811.8"/>
<line x1="220.7" y1="1428.8" x2="220.7" y2="1420.8"/>
<line x1="220.7" y1="795.8" x2="220.7" y2="803.8"/>
<line x1="303.8" y1="1428.8" x2="303.8" y2="1420.8"/>
<line x1="303.8" y1="795.8" x2="303.8" y2="803.8"/>
<line x1="386.9" y1="1428.8" x2="386.9" y2="1420.8"/>
<line x1="386.9" y1="795.8" x2="386.9" y2="803.8"/>
<line x1="470" y1="1428.8" x2="470" y2="1420.8"/>
<line x1="470" y1="795.8" x2="470" y2="803.8"/>
<line x1="553.1" y1="1428.8" x2="553.1" y2="1412.8"/>
<line x1="553.1" y1="795.8" x2="553.1" y2="811.8"/>
<line x1="636.3" y1="1428.8" x2="636.3" y2="1420.8"/>
<line x1="636.3" y1="795.8" x2="636.3" y2="803.8"/>
<line x1="719.4" y1="1428.8" x2="719.4" y2="1420.8"/>
<line x1="719.4" y1="795.8" x2="719.4" y2="803.8"/>
<line x1="802.5" y1="1428.8" x2="802.5" y2="1420.8"/>
<line x1="802.5" y1="795.8" x2="802.5" y2="803.8"/>
<line x1="885.6" y1="1428.8" x2="885.6" y2="1420.8"/>
<line x1="885.6" y1="795.8" x2="885.6" y2="803.8"/>
<line x1="968.7" y1="1428.8" x2="968.7" y2="1412.8"/>
<line x1="968.7" y1="795.8" x2="968.7" y2="811.8"/>
<line x1="96.3" y1="1400" x2="112.3" y2="1400"/>
<line x1="1010.5" y1="1400" x2="994.5" y2="1400"/>
<line x1="96.3" y1="1369.7" x2="104.3" y2="1369.7"/>
<line x1="1010.5" y1="1369.7" x2="1002.5" y2="1369.7"/>
<line x1="96.3" y1="1339.4" x2="104.3" y2="1339.4"/>
<line x1="1010.5" y1="1339.4" x2="1002.5" y2="1339.4"/>
<line x1="96.3" y1="1309.1" x2="104.3" y2="1309.1"/>
<line x1="1010.5" y1="1309.1" x2="1002.5" y2="1309.1"/>
<line x1="96.3" y1="1278.8" x2="104.3" y2="1278.8"/>
<line x1="1010.5" y1="1278.8" x2="1002.5" y2="1278.8"/>
<line x1="96.3" y1="1248.5" x2="112.3" y2="1248.5"/>
<line x1="1010.5" y1="1248.5" x2="994.5" y2="1248.5"/>
<line x1="96.3" y1="1218.3" x2="104.3" y2="1218.3"/>
<line x1="1010.5" y1="1218.3" x2="1002.5" y2="1218.3"/>
<line x1="96.3" y1="1188" x2="104.3" y2="1188"/>
<line x1="1010.5" y1="1188" x2="1002.5" y2="1188"/>
<line x1="96.3" y1="1157.7" x2="104.3" y2="1157.7"/>
<line x1="1010.5" y1="1157.7" x2="1002.5" y2="1157.7"/>
<line x1="96.3" y1="1127.4" x2="104.3" y2="1127.4"/>
<line x1="1010.5" y1="1127.4" x2="1002.5" y2="1127.4"/>
<line x1="96.3" y1="1097.1" x2="112.3" y2="1097.1"/>
<line x1="1010.5" y1="1097.1" x2="994.5" y2="1097.1"/>
<line x1="96.3" y1="1066.8" x2="104.3" y2="1066.8"/>
<line x1="1010.5" y1="1066.8" x2="1002.5" y2="1066.8"/>
<line x1="96.3" y1="1036.5" x2="104.3" y2="1036.5"/>
<line x1="1010.5" y1="1036.5" x2="1002.5" y2="1036.5"/>
<line x1="96.3" y1="1006.2" x2="104.3" y2="1006.2"/>
<line x1="1010.5" y1="1006.2" x2="1002.5" y2="1006.2"/>
<line x1="96.3" y1="975.9" x2="104.3" y2="975.9"/>
<line x1="1010.5" y1="975.9" x2="1002.5" y2="975.9"/>
<line x1="96.3" y1="945.7" x2="112.3" y2="945.7"/>
<line x1="1010.5" y1="945.7" x2="994.5" y2="945.7"/>
<line x1="96.3" y1="915.4" x2="104.3" y2="915.4"/>
<line x1="1010.5" y1="915.4" x2="1002.5" y2="915.4"/>
<line x1="96.3" y1="885.1" x2="104.3" y2="885.1"/>
<line x1="1010.5" y1="885.1" x2="1002.5" y2="885.1"/>
<line x1="96.3" y1="854.8" x2="104.3" y2="854.8"/>
<line x1="1010.5" y1="854.8" x2="1002.5" y2="854.8"/>
<line x1="96.3" y1="824.5" x2="104.3" y2="824.5"/>
<line x1="1010.5" y1="824.5" x2="1002.5" y2="824.5"/>
<line x1="1195.6" y1="1428.8" x2="1195.6" y2="1412.8"/>
<line x1="1195.6" y1="795.8" x2="1195.6" y2="811.8"/>
<line x1="1278.7" y1="1428.8" x2="1278.7" y2="1420.8"/>
<line x1="1278.7" y1="795.8" x2="1278.7" y2="803.8"/>
<line x1="1361.9" y1="1428.8" x2="1361.9" y2="1420.8"/>
<line x1="1361.9" y1="795.8" x2="1361.9" y2="803.8"/>
<line x1="1445" y1="1428.8" x2="1445" y2="1420.8"/>
<line x1="1445" y1="795.8" x2="1445" y2="803.8"/>
<line x1="1528.1" y1="1428.8" x2="1528.1" y2="1420.8"/>
<line x1="1528.1" y1="795.8" x2="1528.1" y2="803.8"/>
<line x1="1611.2" y1="1428.8" x2="1611.2" y2="1412.8"/>
<line x1="1611.2" y1="795.8" x2="1611.2" y2="811.8"/>
<line x1="1694.4" y1="1428.8" x2="1694.4" y2="1420.8"/>
<line x1="1694.4" y1="795.8" x2="1694.4" y2="803.8"/>
<line x1="1777.5" y1="1428.8" x2="1777.5" y2="1420.8"/>
<line x1="1777.5" y1="795.8" x2="1777.5" y2="803.8"/>
<line x1="1860.6" y1="1428.8" x2="1860.6" y2="1420.8"/>
<line x1="1860.6" y1="795.8" x2="1860.6" y2="803.8"/>
<line x1="1943.8" y1="1428.8" x2="1943.8" y2="1420.8"/>
<line x1="1943.8" y1="795.8" x2="1943.8" y2="803.8"/>
<line x1="2026.9" y1="1428.8" x2="2026.9" y2="1412.8"/>
<line x1="2026.9" y1="795.8" x2="2026.9" y2="811.8"/>
<line x1="1154" y1="1400" x2="1170" y2="1400"/>
<line x1="2068.2" y1="1400" x2="2052.2" y2="1400"/>
<line x1="1154" y1="1364" x2="1162" y2="1364"/>
<line x1="2068.2" y1="1364" x2="2060.2" y2="1364"/>
<line x1="1154" y1="1328" x2="1162" y2="1328"/>
<line x1="2068.2" y1="1328" x2="2060.2" y2="1328"/>
<line x1="1154" y1="1292" x2="1162" y2="1292"/>
<line x1="2068.2" y1="1292" x2="2060.2" y2="1292"/>
<line x1="1154" y1="1256" x2="1162" y2="1256"/>
<line x1="2068.2" y1="1256" x2="2060.2" y2="1256"/>
<line x1="1154" y1="1220" x2="1170" y2="1220"/>
<line x1="2068.2" y1="1220" x2="2052.2" y2="1220"/>
<line x1="1154" y1="1184.1" x2="1162" y2="1184.1"/>
<line x1="2068.2" y1="1184.1" x2="2060.2" y2="1184.1"/>
<line x1="1154" y1="1148.1" x2="1162" y2="1148.1"/>
<line x1="2068.2" y1="1148.1" x2="2060.2" y2="1148.1"/>
<line x1="1154" y1="1112.1" x2="1162" y2="1112.1"/>
<line x1="2068.2" y1="1112.1" x2="2060.2" y2="1112.1"/>
<line x1="1154" y1="1076.1" x2="1162" y2="1076.1"/>
<line x1="2068.2" y1="1076.1" x2="2060.2" y2="1076.1"/>
<line x1="1154" y1="1040.1" x2="1170" y2="1040.1"/>
<line x1="2068.2" y1="1040.1" x2="2052.2" y2="1040.1"/>
<line x1="1154" y1="1004.1" x2="1162" y2="1004.1"/>
<line x1="2068.2" y1="1004.1" x2="2060.2" y2="1004.1"/>
<line x1="1154" y1="968.1" x2="1162" y2="968.1"/>
<line x1="2068.2" y1="968.1" x2="2060.2" y2="968.1"/>
<line x1="1154" y1="932.1" x2="1162" y2="932.1"/>
<line x1="2068.2" y1="932.1" x2="2060.2" y2="932.1"/>
<line x1="1154" y1="896.1" x2="1162" y2="896.1"/>
<line x1="2068.2" y1="896.1" x2="2060.2" y2="896.1"/>
<line x1="1154" y1="860.1" x2="1170" y2="860.1"/>
<line x1="2068.2" y1="860.1" x2="2052.2" y2="860.1"/>
<line x1="1154" y1="824.2" x2="1162" y2="824.2"/>
<line x1="2068.2" y1="824.2" x2="2060.2" y2="824.2"/>
</g>
<g font-family='"Liberation Sans", "DejaVu Sans", sans-serif' font-size="33.6" fill="#000" stroke="#000" stroke-width="0.45">
<text x="152.3" y="65.8" textLength="323.4" lengthAdjust="spacing" word-spacing="6">Interior to snow line</text>
<text x="1214.3" y="66.2" textLength="337.5" lengthAdjust="spacing" word-spacing="6">Exterior to snow line</text>
<text x="553" y="860.7" textLength="323.9" lengthAdjust="spacing" word-spacing="6">Interior to snow line</text>
<text x="1611.2" y="860.7" textLength="332.8" lengthAdjust="spacing" word-spacing="6">Exterior to snow line</text>
<text x="373.7" y="741.1" textLength="358.9" lengthAdjust="spacing" word-spacing="6">Semi&#8722;major axis (AU)</text>
<text x="1431.6" y="741.1" textLength="358.9" lengthAdjust="spacing" word-spacing="6">Semi&#8722;major axis (AU)</text>
<text x="462.3" y="1535.6" textLength="181.2" lengthAdjust="spacingAndGlyphs">Eccentricity</text>
<text x="1520.2" y="1535.6" textLength="181.2" lengthAdjust="spacingAndGlyphs">Eccentricity</text>
<text x="196.3" y="675.3" textLength="66.6" lengthAdjust="spacingAndGlyphs">0.01</text>
<text x="472" y="675.3" textLength="45.1" lengthAdjust="spacingAndGlyphs">0.1</text>
<text x="755.9" y="675.3" textLength="9.8" lengthAdjust="spacingAndGlyphs">1</text>
<text x="1311" y="675.3" textLength="11" lengthAdjust="spacingAndGlyphs">1</text>
<text x="1556.9" y="675.3" textLength="39.2" lengthAdjust="spacingAndGlyphs">10</text>
<text x="1805.9" y="675.3" textLength="58.9" lengthAdjust="spacingAndGlyphs">100</text>
<text x="128.1" y="1469.6" textLength="19.8" lengthAdjust="spacingAndGlyphs">0</text>
<text x="527.7" y="1469.6" textLength="51.1" lengthAdjust="spacingAndGlyphs">0.5</text>
<text x="961.7" y="1469.6" textLength="10.8" lengthAdjust="spacingAndGlyphs">1</text>
<text x="1186.1" y="1469.6" textLength="19.8" lengthAdjust="spacingAndGlyphs">0</text>
<text x="1585.7" y="1469.6" textLength="51.1" lengthAdjust="spacingAndGlyphs">0.5</text>
<text x="2020.1" y="1469.6" textLength="10.8" lengthAdjust="spacingAndGlyphs">1</text>
<text x="25.4" y="408.7" textLength="181" lengthAdjust="spacingAndGlyphs" transform="rotate(-90 25.4 408.7)">Eccentricity</text>
<text x="1083.1" y="408.7" textLength="181" lengthAdjust="spacingAndGlyphs" transform="rotate(-90 1083.1 408.7)">Eccentricity</text>
<text x="24.9" y="1173" textLength="122.6" lengthAdjust="spacingAndGlyphs" transform="rotate(-90 24.9 1173)">Number</text>
<text x="1082.6" y="1173" textLength="122.6" lengthAdjust="spacingAndGlyphs" transform="rotate(-90 1082.6 1173)">Number</text>
<text x="74.8" y="615.1" textLength="19.6" lengthAdjust="spacingAndGlyphs" transform="rotate(-90 74.8 615.1)">0</text>
<text x="74.8" y="343.3" textLength="49.9" lengthAdjust="spacingAndGlyphs" transform="rotate(-90 74.8 343.3)">0.5</text>
<text x="74.8" y="38" textLength="12" lengthAdjust="spacingAndGlyphs" transform="rotate(-90 74.8 38)">1</text>
<text x="1132.5" y="615.1" textLength="19.6" lengthAdjust="spacingAndGlyphs" transform="rotate(-90 1132.5 615.1)">0</text>
<text x="1132.5" y="343.3" textLength="49.9" lengthAdjust="spacingAndGlyphs" transform="rotate(-90 1132.5 343.3)">0.5</text>
<text x="1132.5" y="38" textLength="12" lengthAdjust="spacingAndGlyphs" transform="rotate(-90 1132.5 38)">1</text>
<text x="74.6" y="1409.3" textLength="19.6" lengthAdjust="spacingAndGlyphs" transform="rotate(-90 74.6 1409.3)">0</text>
<text x="74.6" y="1268.6" textLength="39.5" lengthAdjust="spacingAndGlyphs" transform="rotate(-90 74.6 1268.6)">50</text>
<text x="74.6" y="1125.6" textLength="57.8" lengthAdjust="spacingAndGlyphs" transform="rotate(-90 74.6 1125.6)">100</text>
<text x="74.6" y="973.8" textLength="57.9" lengthAdjust="spacingAndGlyphs" transform="rotate(-90 74.6 973.8)">150</text>
<text x="1132.3" y="1409.3" textLength="19.6" lengthAdjust="spacingAndGlyphs" transform="rotate(-90 1132.3 1409.3)">0</text>
<text x="1132.3" y="1230" textLength="20.3" lengthAdjust="spacingAndGlyphs" transform="rotate(-90 1132.3 1230)">5</text>
<text x="1132.3" y="1059.7" textLength="39.2" lengthAdjust="spacingAndGlyphs" transform="rotate(-90 1132.3 1059.7)">10</text>
<text x="1132.3" y="879.4" textLength="38.9" lengthAdjust="spacingAndGlyphs" transform="rotate(-90 1132.3 879.4)">15</text>
</g>
</svg>
</body></html>
